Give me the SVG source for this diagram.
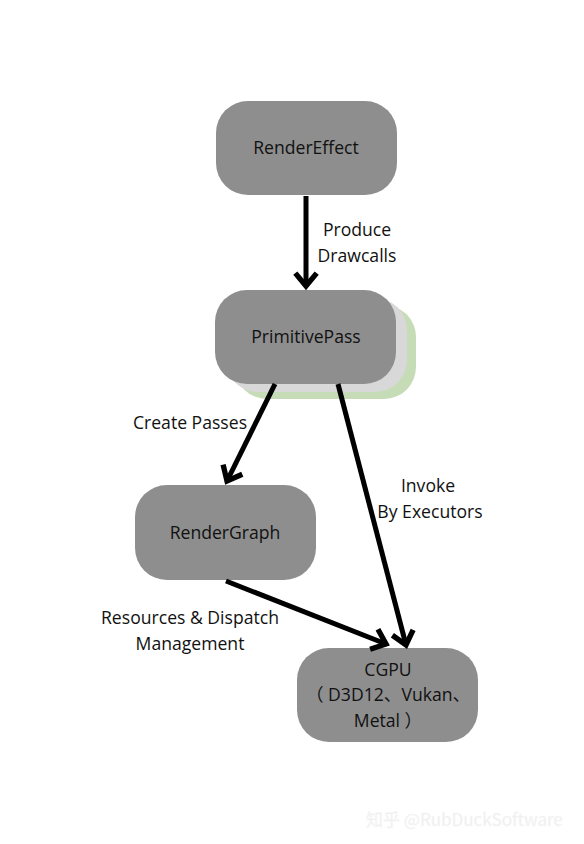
<svg xmlns="http://www.w3.org/2000/svg" width="584" height="844" viewBox="0 0 584 844">
<defs>
<style>
.node{fill:#8e8e8e;}
.t{font-family:"Open Sans","Noto Sans","Noto Sans CJK SC",sans-serif;font-size:17.6px;fill:#111;text-anchor:middle;}
.lbl{font-family:"Open Sans","Noto Sans","Noto Sans CJK SC",sans-serif;font-size:17.6px;fill:#111;text-anchor:middle;}
.edge{stroke:#000;stroke-width:5;fill:none;marker-end:url(#chev);}
.wm{font-family:"Noto Sans CJK SC","Open Sans",sans-serif;font-size:17px;fill:#ececec;stroke:#f8f8f8;stroke-width:0.5;}
</style>
<marker id="chev" markerUnits="userSpaceOnUse" markerWidth="30" markerHeight="30" viewBox="-16 -14 20 28" refX="0" refY="0" orient="auto">
<path d="M-12,-10 L0,0 L-12,10" fill="none" stroke="#000" stroke-width="5" stroke-linejoin="miter"/>
</marker>
</defs>
<rect width="584" height="844" fill="#ffffff"/>
<g id="RenderEffect">
<rect class="node" x="216" y="101" width="181" height="94" rx="32"/>
<text class="t" x="306" y="154">RenderEffect</text>
</g>
<g id="PrimitivePass">
<rect x="235" y="305" width="181" height="94" rx="32" fill="#c6dcb6"/>
<rect x="226" y="298" width="181" height="94" rx="32" fill="#d8d8d8"/>
<rect class="node" x="215" y="290" width="181" height="94" rx="32"/>
<text class="t" x="306" y="343">PrimitivePass</text>
</g>
<g id="RenderGraph">
<rect class="node" x="135" y="485" width="181" height="95" rx="32"/>
<text class="t" x="225" y="539">RenderGraph</text>
</g>
<g id="CGPU">
<rect class="node" x="297" y="648" width="181" height="94" rx="32"/>
<text class="t" x="388" y="676">CGPU</text>
<text class="t" x="388" y="701">（ D3D12、Vukan、</text>
<text class="t" x="388" y="727">Metal ）</text>
</g>
<g id="connectors">
<line class="edge" x1="306" y1="196" x2="306" y2="286"/>
<line class="edge" x1="275" y1="384" x2="227" y2="481"/>
<line class="edge" x1="338" y1="384" x2="406" y2="645"/>
<line class="edge" x1="226" y1="581" x2="386" y2="644"/>
</g>
<g id="edge-labels">
<text class="lbl" x="357" y="236">Produce</text>
<text class="lbl" x="357" y="262">Drawcalls</text>
<text class="lbl" x="190" y="429">Create Passes</text>
<text class="lbl" x="428" y="492">Invoke</text>
<text class="lbl" x="430" y="518">By Executors</text>
<text class="lbl" x="190" y="624">Resources &amp; Dispatch</text>
<text class="lbl" x="190" y="650">Management</text>
</g>
<text class="wm" x="366" y="826">知乎 @RubDuckSoftware</text>
</svg>
